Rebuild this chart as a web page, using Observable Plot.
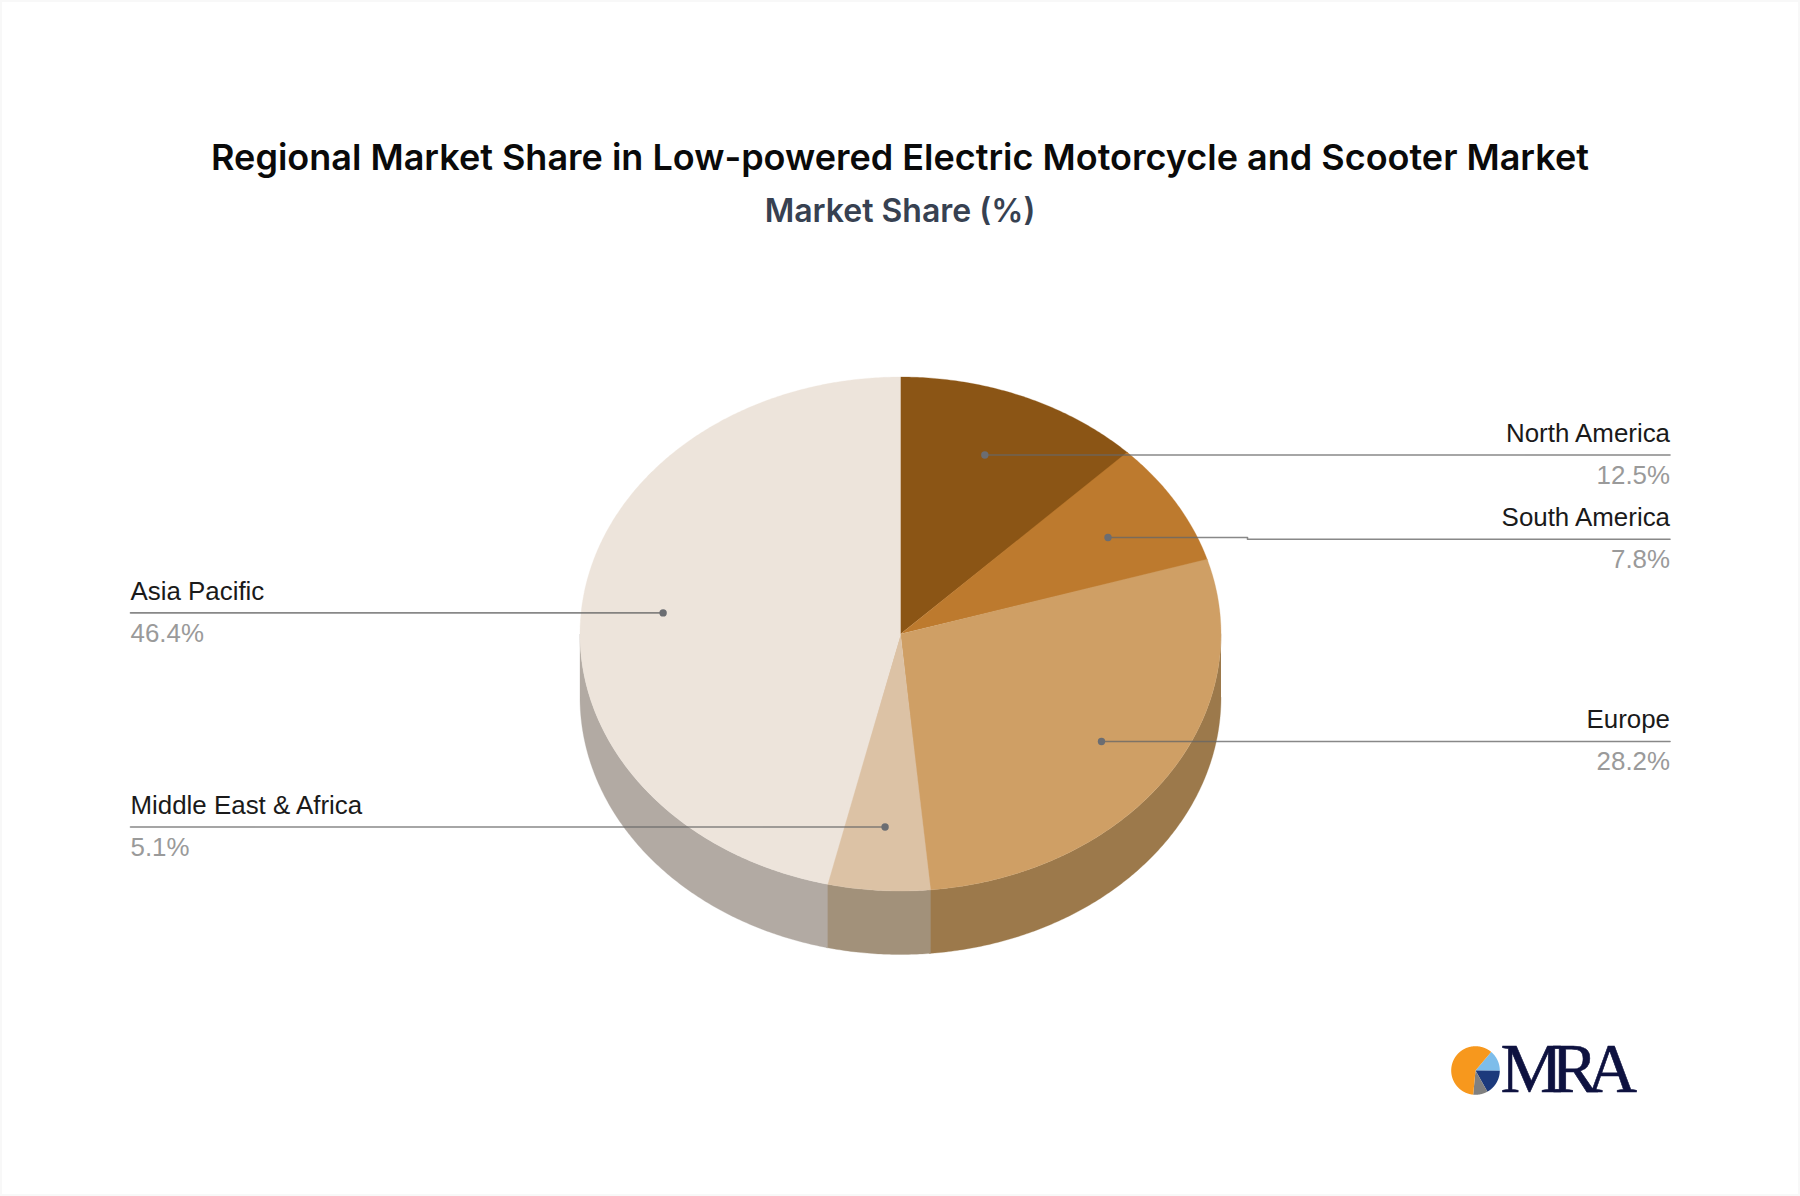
<!DOCTYPE html>
<html>
<head>
<meta charset="utf-8">
<script src="https://cdn.jsdelivr.net/npm/d3@7"></script>
<script src="https://cdn.jsdelivr.net/npm/@observablehq/plot@0.6"></script>
<style>
html,body{margin:0;padding:0;background:#fff;}
#page{width:1800px;height:1196px;position:relative;overflow:hidden;box-shadow:inset 0 0 0 2px #f8f8f8;}
#head{height:250px;position:relative;text-align:center;font-family:Inter,sans-serif;}
#title{position:absolute;left:0;width:1800px;top:131px;font-size:36px;line-height:52px;font-weight:600;color:#0a0a0a;}
#sub{position:absolute;left:0;width:1800px;top:186px;font-size:32px;line-height:50px;font-weight:600;color:#374151;}
svg{display:block;}
</style>
</head>
<body>
<div id="page">
<div id="head">
<div id="title"></div>
<div id="sub"></div>
</div>
<div id="chart"></div>
</div>
<script>
const chartTitle = "Regional Market Share in Low-powered Electric Motorcycle and Scooter Market";
const chartSubtitle = "Market Share (%)";
const regions = ["North America", "South America", "Europe", "Middle East & Africa", "Asia Pacific"];
const shares = [12.5, 7.8, 28.2, 5.15, 46.35];
const shareLabels = ["12.5%", "7.8%", "28.2%", "5.1%", "46.4%"];
const topColors = ["#8b5515", "#bd7a2e", "#cf9f65", "#dcc2a5", "#ede4db"];
const wallColors = ["#6a4112", "#8f5e25", "#9c794b", "#a2917a", "#b2aaa3"];
const labelSides = ["right", "right", "right", "left", "left"];
const logoShares = [14, 16.7, 9.7, 59.6];
const logoColors = ["#7dbdea", "#1c3a7c", "#808080", "#f7981d"];
const logoText = "MRA";

document.getElementById("title").textContent = chartTitle;
document.getElementById("sub").textContent = chartSubtitle;

const top0 = 250, W = 1800, H = 1196 - top0;
const cx = 900, cy = 633.5, rx = 320.5, ry = 257, depth = 63.5;
const px = (a, r = 1) => cx + rx * r * Math.sin(a);
const py = (a, r = 1) => cy - ry * r * Math.cos(a);
const rad = d => d * Math.PI / 180;

// cumulative slice angles, clockwise from twelve o'clock
let acc = 0;
const slices = regions.map((region, i) => {
  const a0 = acc / 100 * 2 * Math.PI;
  acc += shares[i];
  const a1 = acc / 100 * 2 * Math.PI;
  return {region, i, a0, a1, mid: (a0 + a1) / 2};
});

function arcAngles(a0, a1) {
  const n = Math.max(2, Math.ceil((a1 - a0) / rad(0.5)));
  return d3.range(n + 1).map(k => a0 + (a1 - a0) * k / n);
}

// each slice runs slightly under the next one so that no background hairline shows at the joins
const overlap = s => s.i < slices.length - 1 ? rad(0.25) : 0;

const topRows = slices.flatMap(s => [
  {key: s.region, fill: topColors[s.i], x: cx, y: cy},
  ...arcAngles(s.a0, s.a1 + overlap(s)).map(a => ({key: s.region, fill: topColors[s.i], x: px(a), y: py(a)}))
]);

const wallRows = slices.flatMap(s => {
  const a0 = Math.max(s.a0, Math.PI / 2), a1 = Math.min(s.a1 + overlap(s), 3 * Math.PI / 2);
  if (a1 <= a0) return [];
  const arc = arcAngles(a0, a1);
  return [
    ...arc.map(a => ({key: s.region, fill: wallColors[s.i], x: px(a), y: py(a)})),
    ...arc.slice().reverse().map(a => ({key: s.region, fill: wallColors[s.i], x: px(a), y: py(a) + depth}))
  ];
});

// leader anchor: a fixed fraction of the radius at each slice's mid-angle, nudged by a few pixels
const dotR = 0.755, rightEnd = 1669.5, leftEnd = 130;
const nudgeX = [-8.3, 0, 0, 0.9, 3];
const nudgeY = [0.3, 3.3, -0.6, -0.6, 1.1];
const rows = slices.map(s => {
  const x = px(s.mid, dotR) + nudgeX[s.i], y = py(s.mid, dotR) + nudgeY[s.i];
  const side = labelSides[s.i];
  const jog = s.region === "South America" ? 1.7 : 0;
  return {region: s.region, label: shareLabels[s.i], x, y, side, jog,
          endX: side === "right" ? rightEnd : leftEnd, lineY: y + jog};
});

const leaderRows = rows.flatMap(r => r.jog
  ? [{k: r.region, x: r.x, y: r.y}, {k: r.region, x: 1247, y: r.y}, {k: r.region, x: 1247, y: r.lineY}, {k: r.region, x: r.endX, y: r.lineY}]
  : [{k: r.region, x: r.x, y: r.y}, {k: r.region, x: r.endX, y: r.y}]);

// logo
const lx = 1475, ly = 1070, lr = 24.3;
let lacc = 40 / 360 * 100;
const logoRows = logoShares.flatMap((v, i) => {
  const a0 = lacc / 100 * 2 * Math.PI;
  lacc += v;
  const a1 = lacc / 100 * 2 * Math.PI;
  return [
    {key: "l" + i, fill: logoColors[i], x: lx, y: ly},
    ...arcAngles(a0, a1).map(a => ({key: "l" + i, fill: logoColors[i], x: lx + lr * Math.sin(a), y: ly - lr * Math.cos(a)}))
  ];
});

const labelFont = {fontFamily: "'Liberation Sans', Arial, sans-serif", fontSize: 25.9, lineAnchor: "bottom"};

const chart = Plot.plot({
  width: W, height: H, margin: 0,
  x: {axis: null, domain: [0, W], range: [0, W]},
  y: {axis: null, domain: [top0, 1196], range: [0, H]},
  color: {type: "identity"},
  style: {background: "transparent", overflow: "visible"},
  marks: [
    Plot.line(wallRows, {x: "x", y: "y", z: "key", fill: "fill", stroke: "fill", strokeWidth: 0.3}),
    Plot.line(topRows, {x: "x", y: "y", z: "key", fill: "fill", stroke: "fill", strokeWidth: 0.3}),
    Plot.line(leaderRows, {x: "x", y: "y", z: "k", stroke: "#666666", strokeWidth: 1.6, strokeOpacity: 0.78, curve: "linear"}),
    Plot.dot(rows, {x: "x", y: "y", r: 3.7, fill: "#6b6d72", stroke: "none"}),
    Plot.text(rows.filter(d => d.side === "right"), {x: "endX", y: "lineY", text: "region", textAnchor: "end", dy: -13, fill: "#1a1a1a", ...labelFont}),
    Plot.text(rows.filter(d => d.side === "right"), {x: "endX", y: "lineY", text: "label", textAnchor: "end", dy: 29, fill: "#9a9a9a", ...labelFont}),
    Plot.text(rows.filter(d => d.side === "left"), {x: "endX", y: "lineY", text: "region", textAnchor: "start", dy: -13, fill: "#1a1a1a", ...labelFont}),
    Plot.text(rows.filter(d => d.side === "left"), {x: "endX", y: "lineY", text: "label", textAnchor: "start", dy: 29, fill: "#9a9a9a", ...labelFont}),
    Plot.line(logoRows, {x: "x", y: "y", z: "key", fill: "fill", stroke: "none"}),
    Plot.text([logoText], {x: 1500, y: 1091, text: d => d, textAnchor: "start", lineAnchor: "bottom", fontFamily: "'Liberation Serif', serif", fontSize: 70, fill: "#0e1240", stroke: "#0e1240", strokeWidth: 0.6})
  ]
});
chart.querySelectorAll("text").forEach(t => { if (t.textContent === logoText) t.setAttribute("letter-spacing", "-11.5"); });
document.getElementById("chart").appendChild(chart);
</script>
</body>
</html>
